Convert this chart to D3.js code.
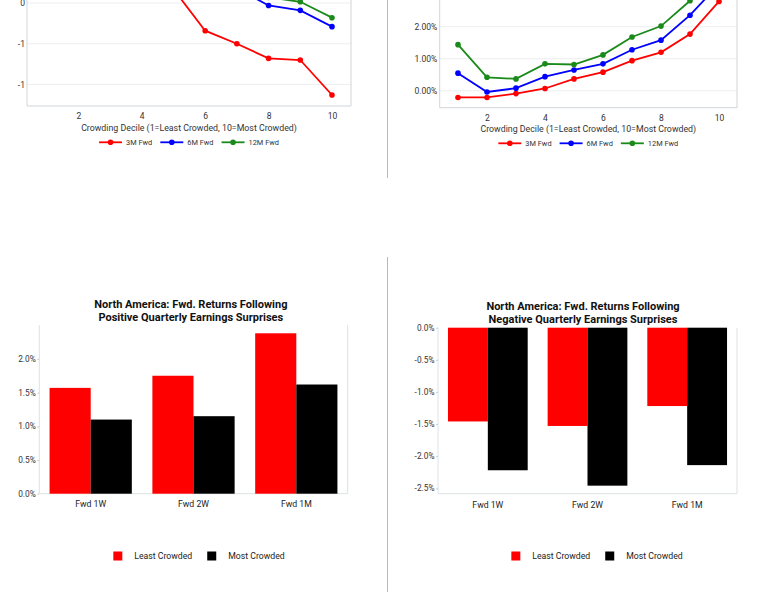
<!DOCTYPE html>
<html>
<head>
<meta charset="utf-8">
<script src="https://cdn.jsdelivr.net/npm/d3@7"></script>
<style>
  body { margin: 0; background: #fff; }
  text { font-family: Roboto, "Noto Sans", sans-serif; }
</style>
</head>
<body>
<script>
var width = 776;
var height = 600;

// ---- data ----
var deciles = [1, 2, 3, 4, 5, 6, 7, 8, 9, 10];
var seriesNames = ["3M Fwd", "6M Fwd", "12M Fwd"];

// top left panel (upper part is cut off in the picture)
var tl3M = [1.30, 1.10, 0.80, 0.50, 0.17, -0.34, -0.50, -0.68, -0.70, -1.13];
var tl6M = [1.90, 1.60, 1.30, 1.00, 0.70, 0.45, 0.18, -0.03, -0.09, -0.29];
var tl12M = [2.30, 2.00, 1.60, 1.30, 1.00, 0.70, 0.40, 0.07, 0.015, -0.18];
var tlTicks = [0, -0.5, -1];
var tlTickLabels = ["0", "-1", "-1"];

// top right panel
var tr3M = [-0.21, -0.21, -0.09, 0.07, 0.37, 0.58, 0.94, 1.20, 1.77, 2.79];
var tr6M = [0.55, -0.04, 0.08, 0.44, 0.65, 0.84, 1.28, 1.58, 2.36, 3.33];
var tr12M = [1.44, 0.42, 0.37, 0.84, 0.82, 1.12, 1.68, 2.02, 2.81, 3.90];
var trTicks = [0, 1, 2];

var xTicks = [2, 4, 6, 8, 10];

// bar panels
var horizons = ["Fwd 1W", "Fwd 2W", "Fwd 1M"];
var groups = ["Least Crowded", "Most Crowded"];
var posLeast = [1.57, 1.75, 2.38];
var posMost = [1.10, 1.15, 1.62];
var negLeast = [-1.46, -1.53, -1.22];
var negMost = [-2.22, -2.46, -2.14];
var posTicks = [0, 0.5, 1, 1.5, 2];
var negTicks = [0, -0.5, -1, -1.5, -2, -2.5];

var lineColors = ["#ff0000", "#0000ff", "#1a8a1a"];
var barColors = ["#ff0000", "#000000"];

var svg = d3.select("body").append("svg")
  .attr("width", width).attr("height", height).style("background-color", "#fff");

// panel dividers
svg.append("line").attr("x1", 387.5).attr("x2", 387.5).attr("y1", 0).attr("y2", 178)
  .style("stroke", "#b8b8b8");
svg.append("line").attr("x1", 387.5).attr("x2", 387.5).attr("y1", 257).attr("y2", 592)
  .style("stroke", "#b8b8b8");

function drawLineChart(cfg) {
  var g = svg.append("g");
  var x = d3.scaleLinear().domain(cfg.xDomain).range([cfg.left, cfg.right]);
  var y = d3.scaleLinear().domain(cfg.yDomain).range([cfg.bottom, cfg.top]);

  g.selectAll(".grid").data(cfg.yTicks).enter().append("line")
    .attr("x1", cfg.left).attr("x2", cfg.right)
    .attr("y1", function (d) { return y(d); }).attr("y2", function (d) { return y(d); })
    .style("stroke", "#eeeeee");

  g.append("path")
    .attr("d", "M" + cfg.left + "," + cfg.top + "V" + cfg.bottom + "H" + cfg.right + "V" + cfg.top)
    .style("fill", "none").style("stroke", "#d0d5d9");

  var yAxis = d3.axisLeft(y).tickValues(cfg.yTicks).tickFormat(cfg.yFormat)
    .tickSize(0).tickPadding(cfg.yPad);
  var ya = g.append("g").attr("transform", "translate(" + cfg.left + ",0)").call(yAxis);
  ya.select(".domain").remove();
  ya.selectAll("text").style("font-size", "8.5px").style("fill", "#333");

  var xAxis = d3.axisBottom(x).tickValues(xTicks).tickFormat(d3.format("d"))
    .tickSize(0).tickPadding(7);
  var xa = g.append("g").attr("transform", "translate(0," + cfg.bottom + ")").call(xAxis);
  xa.select(".domain").remove();
  xa.selectAll("text").style("font-size", "8.5px").style("fill", "#333");

  g.append("text").attr("x", cfg.center).attr("y", cfg.titleY)
    .attr("text-anchor", "middle").style("font-size", "8.8px").style("fill", "#333")
    .text("Crowding Decile (1=Least Crowded, 10=Most Crowded)");

  var line = d3.line()
    .x(function (d, i) { return x(deciles[i]); })
    .y(function (d) { return y(d); });

  cfg.series.forEach(function (s, k) {
    g.append("path").datum(s).attr("d", line)
      .style("fill", "none").style("stroke", lineColors[k]).style("stroke-width", 1.8);
    g.selectAll(".pt" + k).data(s).enter().append("circle")
      .attr("cx", function (d, i) { return x(deciles[i]); })
      .attr("cy", function (d) { return y(d); })
      .attr("r", 2.8).style("fill", lineColors[k]);
  });

  // legend, centred under the plot
  var lg = g.append("g");
  var cx = 0;
  seriesNames.forEach(function (name, k) {
    var it = lg.append("g").attr("transform", "translate(" + cx + ",0)");
    it.append("line").attr("x1", 0).attr("x2", 23).attr("y1", 0).attr("y2", 0)
      .style("stroke", lineColors[k]).style("stroke-width", 1.8);
    it.append("circle").attr("cx", 11.5).attr("cy", 0).attr("r", 2.8).style("fill", lineColors[k]);
    var t = it.append("text").attr("x", 27).attr("y", 2.5)
      .style("font-size", "7.4px").style("fill", "#333").text(name);
    cx += 27 + t.node().getComputedTextLength() + 8;
  });
  var total = cx - 8;
  lg.attr("transform", "translate(" + (cfg.center - total / 2) + "," + cfg.legendY + ")");
}

function drawBarChart(cfg) {
  var g = svg.append("g");
  var x0 = d3.scaleBand().domain(horizons).range([cfg.left, cfg.right])
    .paddingInner(0.2).paddingOuter(0.1);
  var x1 = d3.scaleBand().domain(groups).range([0, x0.bandwidth()]);
  var y = d3.scaleLinear().domain(cfg.yDomain).range([cfg.bottom, cfg.top]);

  g.append("path")
    .attr("d", "M" + cfg.left + "," + cfg.top + "V" + cfg.bottom + "H" + cfg.right + "V" + cfg.top)
    .style("fill", "none").style("stroke", "#dde1e4");

  var yAxis = d3.axisLeft(y).tickValues(cfg.yTicks)
    .tickFormat(function (d) { return d.toFixed(1) + "%"; })
    .tickSize(2).tickPadding(1.5);
  var ya = g.append("g").attr("transform", "translate(" + cfg.left + ",0)").call(yAxis);
  ya.select(".domain").remove();
  ya.selectAll("line").style("stroke", "#cfcfcf");
  ya.selectAll("text").style("font-size", "8.3px").style("fill", "#333");

  var xAxis = d3.axisBottom(x0).tickSize(0).tickPadding(cfg.xPad);
  var xa = g.append("g").attr("transform", "translate(0," + cfg.bottom + ")").call(xAxis);
  xa.select(".domain").remove();
  xa.selectAll("text").style("font-size", "8.7px").style("fill", "#222");

  cfg.values.forEach(function (vals, j) {
    g.selectAll(".bar" + j).data(vals).enter().append("rect")
      .attr("x", function (d, i) { return x0(horizons[i]) + x1(groups[j]); })
      .attr("y", function (d) { return Math.min(y(d), y(0)); })
      .attr("width", x1.bandwidth())
      .attr("height", function (d) { return Math.abs(y(d) - y(0)); })
      .style("fill", barColors[j]);
  });

  cfg.title.forEach(function (line, i) {
    g.append("text").attr("x", cfg.titleX).attr("y", cfg.titleY + i * 13.3)
      .attr("text-anchor", "middle").style("font-size", "11px").style("font-weight", "bold")
      .style("fill", "#111").text(line);
  });

  var lg = g.append("g");
  var cx = 0;
  groups.forEach(function (name, j) {
    var it = lg.append("g").attr("transform", "translate(" + cx + ",0)");
    it.append("rect").attr("x", 0).attr("y", -4.5).attr("width", 9).attr("height", 9)
      .style("fill", barColors[j]);
    var t = it.append("text").attr("x", 21).attr("y", 3.1)
      .style("font-size", "8.7px").style("fill", "#222").text(name);
    cx += 21 + t.node().getComputedTextLength() + 15;
  });
  var total = cx - 15;
  lg.attr("transform", "translate(" + (cfg.legendX - total / 2) + "," + cfg.legendY + ")");
}

drawLineChart({
  left: 27, right: 351, bottom: 106, top: -143.5,
  xDomain: [0.38, 10.6], yDomain: [-1.265, 1.8],
  yTicks: tlTicks, yFormat: function (d, i) { return tlTickLabels[i]; }, yPad: 2,
  series: [tl3M, tl6M, tl12M],
  center: 189, titleY: 130.7, legendY: 142.3
});

drawLineChart({
  left: 439.7, right: 737, bottom: 107.7, top: -37.3,
  xDomain: [0.369, 10.62], yDomain: [-0.53, 4.0],
  yTicks: trTicks, yFormat: function (d) { return d.toFixed(2) + "%"; }, yPad: 2.5,
  series: [tr3M, tr6M, tr12M],
  center: 588.3, titleY: 132.3, legendY: 143.3
});

drawBarChart({
  left: 39.3, right: 347.7, bottom: 493.7, top: 325.2,
  yDomain: [0, 2.5], yTicks: posTicks, values: [posLeast, posMost], xPad: 7,
  title: ["North America: Fwd. Returns Following", "Positive Quarterly Earnings Surprises"],
  titleX: 190.8, titleY: 307.7, legendX: 199, legendY: 556
});

drawBarChart({
  left: 438, right: 737, bottom: 493.7, top: 327.7,
  yDomain: [-2.585, 0], yTicks: negTicks, values: [negLeast, negMost], xPad: 8,
  title: ["North America: Fwd. Returns Following", "Negative Quarterly Earnings Surprises"],
  titleX: 583, titleY: 310, legendX: 597, legendY: 556
});
</script>
</body>
</html>
